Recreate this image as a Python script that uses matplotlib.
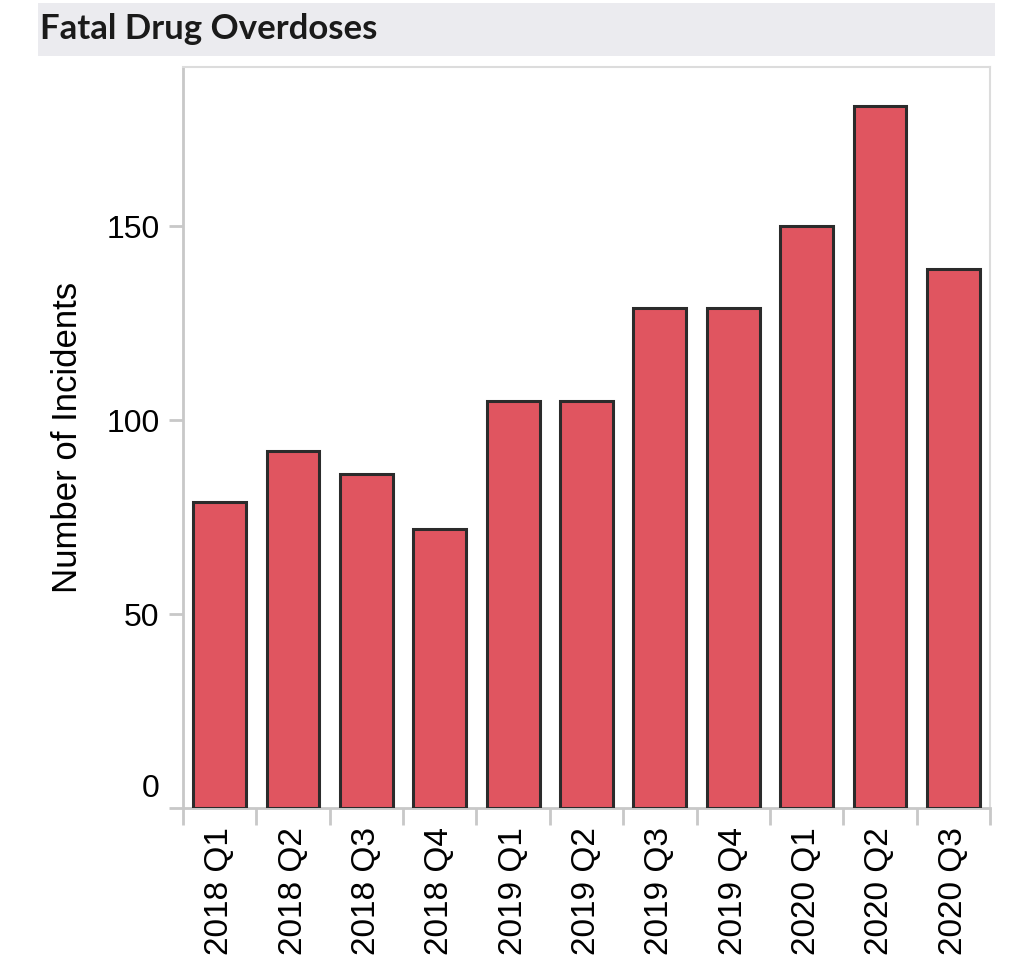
import numpy as np
import matplotlib
matplotlib.use('Agg')
import matplotlib.pyplot as plt
import matplotlib.transforms as mtransforms
from matplotlib.patches import Rectangle

# quarterly counts
quarters = ['2018 Q1', '2018 Q2', '2018 Q3', '2018 Q4',
            '2019 Q1', '2019 Q2', '2019 Q3', '2019 Q4',
            '2020 Q1', '2020 Q2', '2020 Q3']
incidents = [79, 92, 86, 72, 105, 105, 129, 129, 150, 181, 139]
yticks = [0, 50, 100, 150]

plt.rcParams['font.family'] = ['Liberation Sans', 'DejaVu Sans']

fig = plt.figure(figsize=(10.24, 9.67), dpi=100)

# grey title band
band = Rectangle((38/1024, 1-56/967), (995-38)/1024, (56-3)/967,
                 transform=fig.transFigure, facecolor='#ebebef',
                 edgecolor='none', zorder=0)
fig.patches.append(band)
fig.text(40/1024, 1-29/967, 'Fatal Drug Overdoses', family=['Lato', 'DejaVu Sans'],
         fontweight='bold', fontsize=25, color='#1a1a1a', va='center', ha='left')

ax = fig.add_axes([183/1024, 1-808/967, (990-183)/1024, (808-67)/967])

x = np.arange(len(quarters))
ax.bar(x, incidents, width=0.72, color='#e05560', edgecolor='#2b2b2b', linewidth=2.2,
       zorder=3)

ax.set_xlim(-0.5, len(quarters) - 0.5)
ax.set_ylim(0, 191)

ax.set_yticks(yticks)
ax.set_yticklabels([str(v) for v in yticks], fontsize=23)
ax.tick_params(axis='y', length=10, width=2, color='#c8c8c8', pad=7)
# the zero label sits a little above its tick
lbl0 = ax.get_yticklabels()[0]
lbl0.set_transform(lbl0.get_transform() +
                   mtransforms.ScaledTranslation(0, 16/72, fig.dpi_scale_trans))

# category labels in the middle, ticks on the boundaries
ax.set_xticks(x)
ax.set_xticklabels(quarters, rotation=90, fontsize=24)
ax.tick_params(axis='x', length=0, pad=14)
ax.set_xticks(np.arange(len(quarters) + 1) - 0.5, minor=True)
ax.tick_params(axis='x', which='minor', length=12, width=2, color='#c8c8c8')

ax.set_ylabel('Number of Incidents', fontsize=25, labelpad=16)

for side in ['left', 'bottom']:
    ax.spines[side].set_color('#c8c8c8')
    ax.spines[side].set_linewidth(2)
for side in ['top', 'right']:
    ax.spines[side].set_color('#dcdcdc')
    ax.spines[side].set_linewidth(1.5)

fig.savefig('out.png', dpi=100)
